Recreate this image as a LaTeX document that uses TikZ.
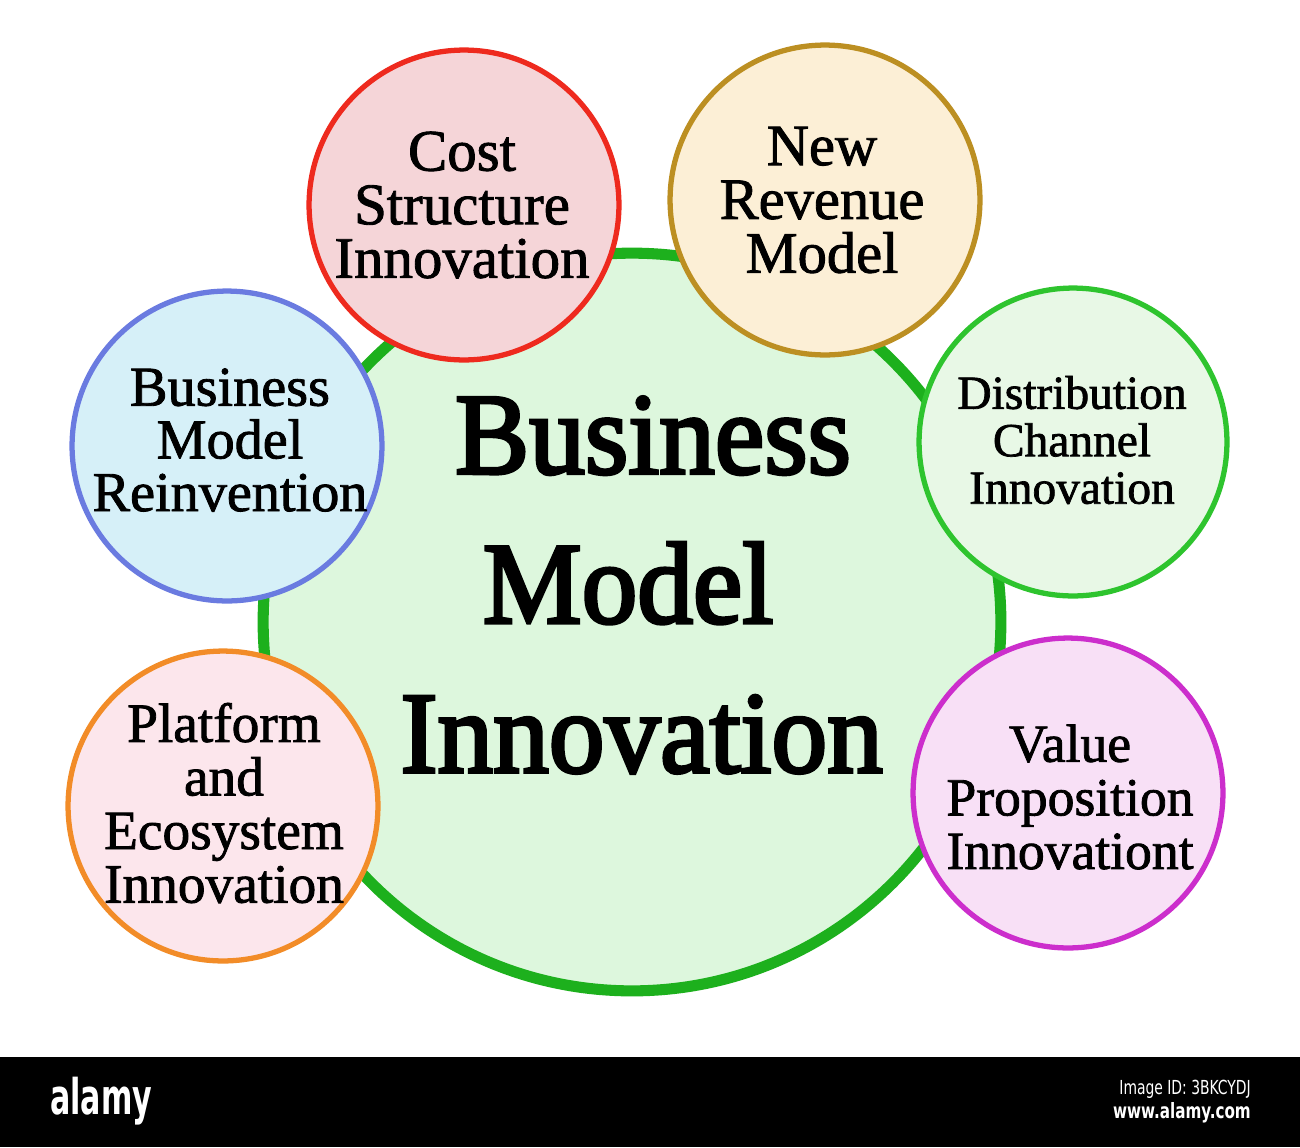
\documentclass[tikz,border=0pt]{standalone}
\usepackage{fontspec}
\setmainfont{Liberation Serif}
\newfontfamily\smallfont[FakeBold=1.5]{Liberation Serif}
\newfontfamily\bigfont[FakeBold=3]{Liberation Serif}
\newfontfamily\barfont{DejaVu Sans Condensed}
\begin{document}
\begin{tikzpicture}[x=0.02cm,y=-0.02cm,
  bub/.style={circle,line width=3pt,minimum size=#1*0.04cm,inner sep=0pt},
  bubtxt/.style={align=center,inner sep=0pt},
  bartxt/.style={text=white,inner sep=0pt,anchor=east},
]
\definecolor{bigfill}{HTML}{DDF7DD}
\definecolor{bigdraw}{HTML}{1DB01D}
\definecolor{costdraw}{HTML}{EE2A1E}
\definecolor{costfill}{HTML}{F5D5D8}
\definecolor{revdraw}{HTML}{BC8F22}
\definecolor{revfill}{HTML}{FCEFD6}
\definecolor{disdraw}{HTML}{2EC42E}
\definecolor{disfill}{HTML}{E8F8E6}
\definecolor{valdraw}{HTML}{CC2ECC}
\definecolor{valfill}{HTML}{F8E0F6}
\definecolor{plndraw}{HTML}{F28C28}
\definecolor{plnfill}{HTML}{FCE6EC}
\definecolor{reidraw}{HTML}{6A7BE0}
\definecolor{reifill}{HTML}{D6F0F8}
\useasboundingbox (0,0) rectangle (1300,1147);
\fill[white] (0,0) rectangle (1300,1147);
% big circle
\node[bub=369,draw=bigdraw,fill=bigfill,line width=6.3pt] (big) at (632,622) {};
\node[align=center,inner sep=0pt,font=\bigfont\fontsize{66}{85}\selectfont,xscale=0.96] (bigt) at (653,585) {Business\\Model\hspace{29.6pt}\mbox{}\\Innovation\hspace{13.5pt}\mbox{}};
% small circles
\node[bub=155,draw=costdraw,fill=costfill] (cost) at (464,205) {};
\node[bubtxt,font=\smallfont\fontsize{33.5}{30.5}\selectfont] (costt) at (462,205) {Cost\\Structure\\Innovation};
\node[bub=155,draw=revdraw,fill=revfill] (rev) at (825,200) {};
\node[bubtxt,font=\smallfont\fontsize{33.3}{30.6}\selectfont] (revt) at (822,200) {New\\Revenue\\Model};
\node[bub=154,draw=disdraw,fill=disfill] (dis) at (1073,442) {};
\node[bubtxt,font=\smallfont\fontsize{27}{27}\selectfont] (dist) at (1072,440) {Distribution\\Channel\\Innovation};
\node[bub=155,draw=valdraw,fill=valfill] (val) at (1068,793) {};
\node[bubtxt,font=\smallfont\fontsize{30.5}{30.5}\selectfont] (valt) at (1070,797) {Value\\Proposition\\Innovationt};
\node[bub=155,draw=plndraw,fill=plnfill] (pln) at (223,806) {};
\node[bubtxt,font=\smallfont\fontsize{31.5}{30.5}\selectfont] (plnt) at (224,803) {Platform\\and\\Ecosystem\\Innovation};
\node[bub=155,draw=reidraw,fill=reifill] (rei) at (227,446) {};
\node[bubtxt,font=\smallfont\fontsize{32}{30}\selectfont] (reit) at (230,440) {Business\\Model\\Reinvention};
% bottom bar
\fill[black] (0,1057) rectangle (1300,1147);
\node[bartxt,anchor=west,font=\barfont\bfseries\fontsize{28}{28}\selectfont,xscale=0.68] (logo) at (50,1101) {alamy};
\node[bartxt,font=\barfont\fontsize{11}{11}\selectfont,xscale=0.8] (imgid) at (1251,1089) {Image ID: 3BKCYDJ};
\node[bartxt,font=\barfont\bfseries\fontsize{12}{12}\selectfont,xscale=0.8] (url) at (1251,1113) {www.alamy.com};
\end{tikzpicture}
\end{document}
